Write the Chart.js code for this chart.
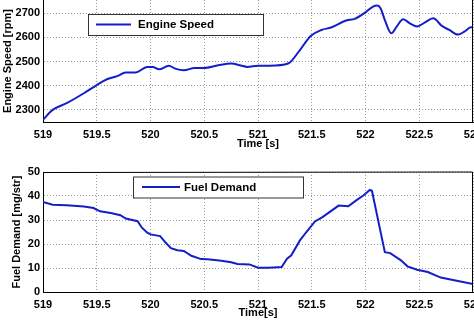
<!DOCTYPE html>
<html>
<head>
<meta charset="utf-8">
<script src="https://cdn.jsdelivr.net/npm/chart.js@4.4.1/dist/chart.umd.min.js"></script>
<style>
  html, body { margin: 0; padding: 0; background: #fff; overflow: hidden; }
  #wrap { position: relative; width: 474px; height: 321px; }
  canvas { position: absolute; left: 0; }
  #speedChart { top: 0; }
  #fuelChart { top: 160px; }
</style>
</head>
<body>
<div id="wrap">
  <canvas id="speedChart" width="474" height="160"></canvas>
  <canvas id="fuelChart" width="474" height="161"></canvas>
</div>
<script>
// data
const timeTicks = [519, 519.5, 520, 520.5, 521, 521.5, 522, 522.5, 523];

const timeSpeed = [519.0, 519.09, 519.22, 519.38, 519.5, 519.59, 519.69, 519.77, 519.86, 519.97,
  520.02, 520.08, 520.17, 520.23, 520.31, 520.41, 520.5, 520.63, 520.75, 520.84,
  520.9, 521.0, 521.11, 521.28, 521.39, 521.49, 521.59, 521.68, 521.82, 521.9,
  522.0, 522.07, 522.11, 522.14, 522.18, 522.24, 522.29, 522.35, 522.42, 522.48,
  522.55, 522.63, 522.71, 522.78, 522.86, 522.92, 522.98, 523.03];
const engineSpeed = [2259, 2300, 2328, 2369, 2403, 2426, 2440, 2455, 2455, 2478,
  2478, 2468, 2483, 2471, 2464, 2474, 2474, 2485, 2492, 2484,
  2478, 2483, 2483, 2492, 2548, 2606, 2631, 2641, 2670, 2677,
  2704, 2728, 2732, 2721, 2672, 2617, 2645, 2675, 2656, 2645,
  2661, 2679, 2648, 2631, 2612, 2624, 2642, 2642];

const timeFuel = [519.0, 519.09, 519.22, 519.38, 519.47, 519.53, 519.63, 519.72, 519.77, 519.88,
  519.92, 519.97, 520.0, 520.09, 520.14, 520.19, 520.25, 520.31, 520.38, 520.47,
  520.53, 520.66, 520.75, 520.81, 520.92, 521.0, 521.1, 521.22, 521.27, 521.31,
  521.39, 521.45, 521.53, 521.6, 521.75, 521.84, 521.92, 521.98, 522.04, 522.06,
  522.18, 522.23, 522.33, 522.39, 522.48, 522.58, 522.7, 522.86, 523.01];
const fuelDemand = [37.5, 36.4, 36.1, 35.6, 35.0, 33.6, 32.9, 32.0, 30.6, 29.5,
  26.8, 24.7, 24.0, 23.3, 20.6, 18.3, 17.4, 17.1, 15.1, 13.7,
  13.6, 13.0, 12.4, 11.7, 11.5, 10.1, 10.1, 10.4, 13.9, 15.3,
  21.5, 25.0, 29.4, 31.2, 36.0, 35.7, 38.4, 40.2, 42.5, 42.2,
  16.6, 16.2, 13.2, 10.7, 9.3, 8.3, 6.0, 4.6, 3.2];

const speedTicks = [2300, 2400, 2500, 2600, 2700];
const fuelTicks = [0, 10, 20, 30, 40, 50];

const lineBlue = 'rgb(20, 30, 200)';
const font = { family: 'Liberation Sans, Arial, sans-serif', size: 11, weight: 'bold' };

// matlab-ish frame + boxed legend
const framePlugin = {
  id: 'frame',
  afterDraw(chart, args, opts) {
    const ctx = chart.ctx;
    const a = chart.chartArea;
    ctx.save();
    ctx.strokeStyle = '#000';
    ctx.lineWidth = 1;
    ctx.beginPath();
    ctx.moveTo(a.right - 0.5, a.bottom);
    ctx.lineTo(a.right - 0.5, a.top);
    if (opts.top) ctx.lineTo(a.left, a.top + 0.5);
    ctx.stroke();

    const ds = chart.data.datasets[0];
    const b = opts.box;
    ctx.fillStyle = '#fff';
    ctx.fillRect(b.x, b.y, b.w, b.h);
    ctx.strokeStyle = '#333';
    ctx.strokeRect(b.x + 0.5, b.y + 0.5, b.w, b.h);
    ctx.strokeStyle = ds.borderColor;
    ctx.lineWidth = 2;
    ctx.beginPath();
    ctx.moveTo(b.lx1, b.ly);
    ctx.lineTo(b.lx2, b.ly);
    ctx.stroke();
    ctx.fillStyle = '#000';
    ctx.font = 'bold 11.5px Liberation Sans, Arial, sans-serif';
    ctx.textBaseline = 'middle';
    ctx.fillText(ds.label, b.tx, b.ly + 0.5);
    ctx.restore();
  }
};

function xScale(title, h, titlePad) {
  return {
    type: 'linear', min: 519, max: 523,
    afterBuildTicks: s => { s.ticks = timeTicks.map(v => ({ value: v })); },
    ticks: { font: font, color: '#000', padding: 6, maxRotation: 0, autoSkip: false, callback: v => String(v) },
    grid: { color: '#9a9a9a', drawTicks: false },
    border: { color: '#000', dash: [1, 2] },
    title: { display: true, text: title, font: font, color: '#000', padding: { top: 0, bottom: titlePad } },
    afterFit: s => { s.height = h; s.paddingLeft = 0; s.paddingRight = 0; }
  };
}

function yScale(title, min, max, tickVals, titlePad) {
  return {
    min: min, max: max,
    afterBuildTicks: s => { s.ticks = tickVals.map(v => ({ value: v })); },
    ticks: { font: font, color: '#000', padding: 3, callback: v => String(v) },
    grid: { color: '#9a9a9a', drawTicks: false },
    border: { color: '#000', dash: [1, 2] },
    title: { display: true, text: title, font: font, color: '#000', padding: { top: titlePad, bottom: 0 } },
    afterFit: s => { s.width = 43; s.paddingTop = 0; s.paddingBottom = 0; }
  };
}

new Chart(document.getElementById('speedChart'), {
  type: 'line',
  data: {
    datasets: [{
      label: 'Engine Speed',
      data: timeSpeed.map((t, i) => ({ x: t, y: engineSpeed[i] })),
      borderColor: lineBlue,
      borderWidth: 2,
      pointRadius: 0,
      cubicInterpolationMode: 'monotone',
      fill: false
    }]
  },
  plugins: [framePlugin],
  options: {
    responsive: false,
    animation: false,
    layout: { padding: { left: 0, right: 1, top: 0, bottom: 0 } },
    scales: {
      x: xScale('Time [s]', 38, 9),
      y: yScale('Engine Speed [rpm]', 2250, 2755, speedTicks, 1)
    },
    plugins: {
      legend: { display: false },
      tooltip: { enabled: false },
      frame: { top: false, box: { x: 88, y: 14, w: 175, h: 21, lx1: 96, lx2: 131, ly: 24.5, tx: 138 } }
    }
  }
});

new Chart(document.getElementById('fuelChart'), {
  type: 'line',
  data: {
    datasets: [{
      label: 'Fuel Demand',
      data: timeFuel.map((t, i) => ({ x: t, y: fuelDemand[i] })),
      borderColor: lineBlue,
      borderWidth: 2,
      pointRadius: 0,
      tension: 0,
      fill: false
    }]
  },
  plugins: [framePlugin],
  options: {
    responsive: false,
    animation: false,
    layout: { padding: { left: 0, right: 1, top: 12, bottom: 0 } },
    scales: {
      x: xScale('Time[s]', 29, 1),
      y: yScale('Fuel Demand [mg/str]', 0, 50, fuelTicks, 10)
    },
    plugins: {
      legend: { display: false },
      tooltip: { enabled: false },
      frame: { top: true, box: { x: 133, y: 16.5, w: 170, h: 21, lx1: 142, lx2: 180, ly: 27, tx: 184 } }
    }
  }
});
</script>
</body>
</html>
